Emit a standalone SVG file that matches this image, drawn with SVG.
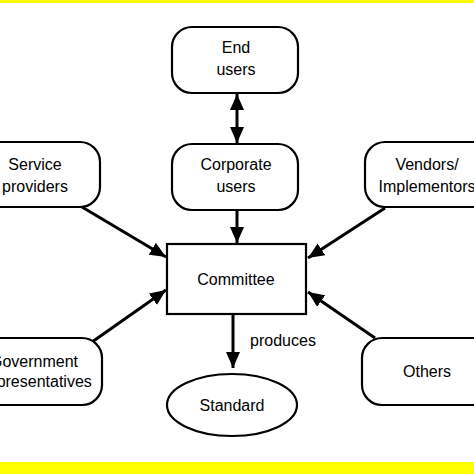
<svg xmlns="http://www.w3.org/2000/svg" width="474" height="474" viewBox="0 0 474 474">
<style>
.box{fill:#fff;stroke:#000;stroke-width:2.2}
.t{font-family:"Liberation Sans",Arial,sans-serif;font-size:16px;fill:#000;text-anchor:middle}
.c{stroke:#000;stroke-width:3;fill:none}
</style>
<defs>
<marker id="ah" markerUnits="userSpaceOnUse" markerWidth="16" markerHeight="14" refX="16" refY="7" orient="auto-start-reverse">
<path d="M0,0 L16,7 L0,14 Z" fill="#000"/>
</marker>
</defs>
<rect x="0" y="0" width="474" height="474" fill="#fff"/>
<rect x="0" y="0" width="474" height="3" fill="#ffff00"/>
<rect x="0" y="462" width="474" height="12" fill="#ffff00"/>
<g id="connectors">
<line class="c" x1="237" y1="94" x2="237" y2="143" marker-start="url(#ah)" marker-end="url(#ah)"/>
<line class="c" x1="237" y1="210" x2="237" y2="243" marker-end="url(#ah)"/>
<line class="c" x1="82" y1="207" x2="166" y2="257" marker-end="url(#ah)"/>
<line class="c" x1="92" y1="342" x2="166" y2="290" marker-end="url(#ah)"/>
<line class="c" x1="385" y1="208" x2="308" y2="258" marker-end="url(#ah)"/>
<line class="c" x1="375" y1="338" x2="308" y2="292" marker-end="url(#ah)"/>
<line class="c" x1="233" y1="314" x2="233" y2="368" marker-end="url(#ah)"/>
<text class="t" x="283" y="346">produces</text>
</g>
<g id="end-users">
<rect class="box" x="172" y="27" width="126" height="66" rx="20"/>
<text class="t" x="236" y="53">End</text>
<text class="t" x="236" y="75">users</text>
</g>
<g id="corporate-users">
<rect class="box" x="172" y="144" width="126" height="66" rx="20"/>
<text class="t" x="236" y="170">Corporate</text>
<text class="t" x="236" y="192">users</text>
</g>
<g id="service-providers">
<rect class="box" x="-30" y="142" width="130" height="65" rx="20"/>
<text class="t" x="35" y="170">Service</text>
<text class="t" x="35" y="192">providers</text>
</g>
<g id="vendors">
<rect class="box" x="365" y="142" width="140" height="65" rx="20"/>
<text class="t" x="427" y="170">Vendors/</text>
<text class="t" x="427" y="192">Implementors</text>
</g>
<g id="committee">
<rect class="box" x="167" y="244" width="139" height="70"/>
<text class="t" x="236" y="285">Committee</text>
</g>
<g id="government">
<rect class="box" x="-30" y="338" width="132" height="67" rx="20"/>
<text class="t" x="34" y="367">Government</text>
<text class="t" x="34" y="387">Representatives</text>
</g>
<g id="others">
<rect class="box" x="362" y="338" width="140" height="67" rx="20"/>
<text class="t" x="427" y="377">Others</text>
</g>
<g id="standard">
<ellipse class="box" cx="232" cy="405" rx="65" ry="31"/>
<text class="t" x="232" y="411">Standard</text>
</g>
</svg>
